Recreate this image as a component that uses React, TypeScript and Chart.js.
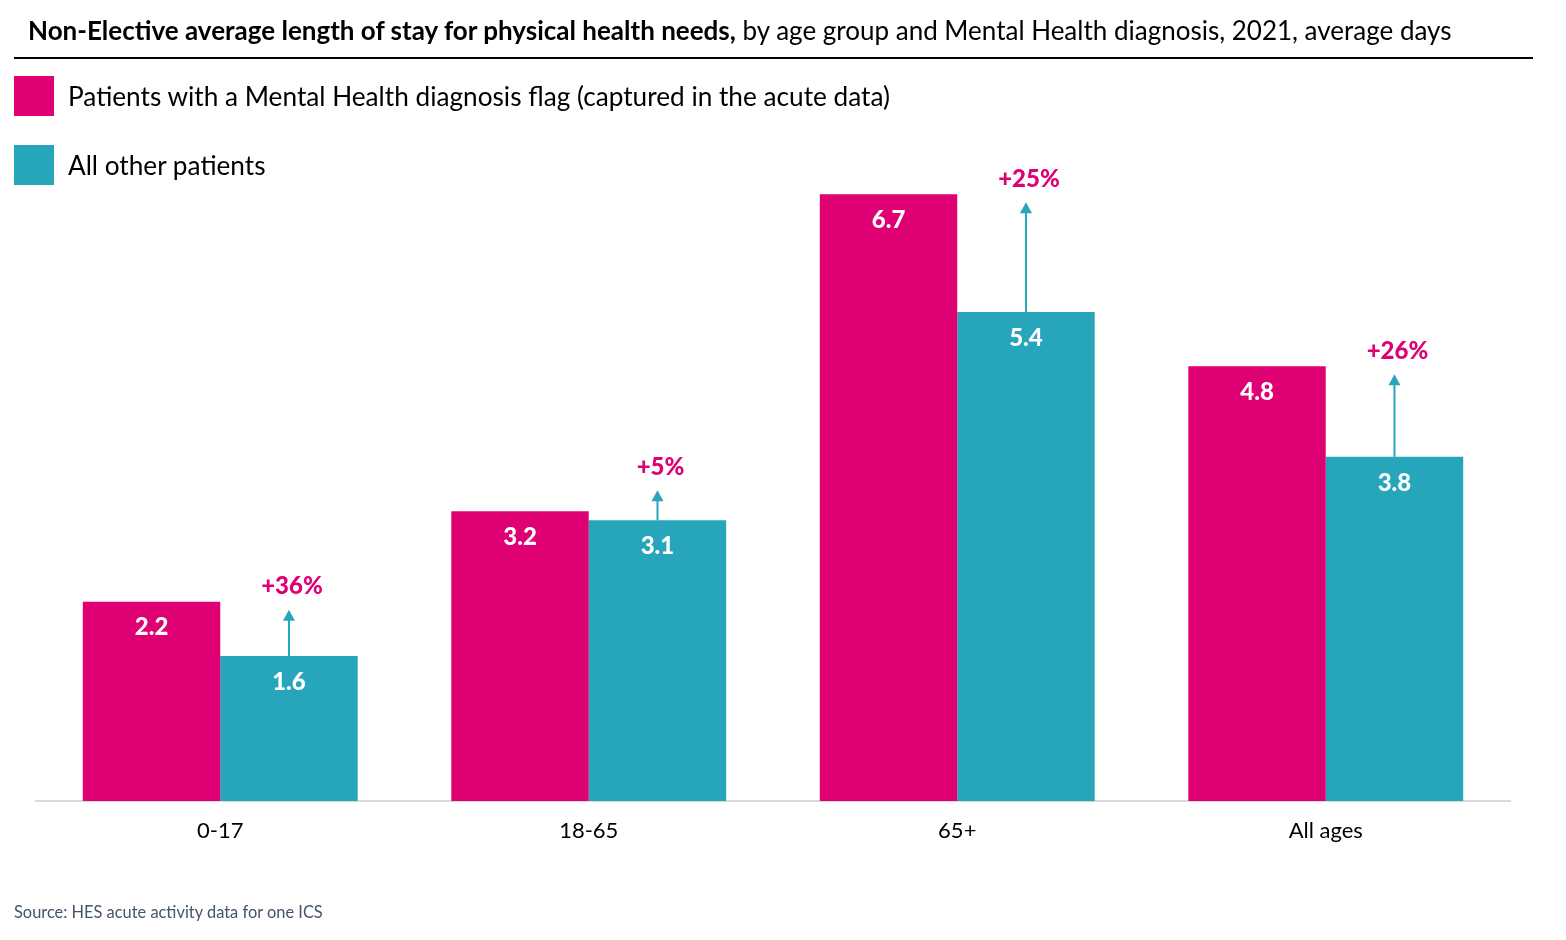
import React, { useEffect, useRef } from "react";
import { Chart, registerables } from "chart.js";

Chart.register(...registerables);

const categories = ["0-17", "18-65", "65+", "All ages"];
const mentalHealthLos = [2.2, 3.2, 6.7, 4.8];
const otherPatientsLos = [1.6, 3.1, 5.4, 3.8];
const upliftLabels = ["+36%", "+5%", "+25%", "+26%"];

const seriesNames = [
  "Patients with a Mental Health diagnosis flag (captured in the acute data)",
  "All other patients",
];

const PINK = "#DF0174";
const TEAL = "#27A5BB";
const FONT = "Lato, 'Open Sans', sans-serif";

const annotationPlugin = {
  id: "barAnnotations",
  afterDatasetsDraw(chart: any) {
    const ctx = chart.ctx;
    const yScale = chart.scales.y;
    const metaPink = chart.getDatasetMeta(0);
    const metaTeal = chart.getDatasetMeta(1);
    ctx.save();
    ctx.textAlign = "center";
    ctx.textBaseline = "middle";
    // value labels inside the top of each bar
    ctx.font = `900 24px ${FONT}`;
    ctx.fillStyle = "#ffffff";
    [metaPink, metaTeal].forEach((meta: any, di: number) => {
      const values = di === 0 ? mentalHealthLos : otherPatientsLos;
      meta.data.forEach((bar: any, i: number) => {
        ctx.fillText(values[i].toFixed(1), bar.x, bar.y + 26);
      });
    });
    // uplift arrows and percentage labels over the comparison bars
    metaTeal.data.forEach((bar: any, i: number) => {
      const pinkTop = yScale.getPixelForValue(mentalHealthLos[i]);
      const tip = Math.min(pinkTop + 8, bar.y - 30);
      ctx.strokeStyle = TEAL;
      ctx.lineWidth = 2;
      ctx.beginPath();
      ctx.moveTo(bar.x, bar.y);
      ctx.lineTo(bar.x, tip + 10);
      ctx.stroke();
      ctx.fillStyle = TEAL;
      ctx.beginPath();
      ctx.moveTo(bar.x, tip);
      ctx.lineTo(bar.x - 6, tip + 11);
      ctx.lineTo(bar.x + 6, tip + 11);
      ctx.closePath();
      ctx.fill();
      ctx.fillStyle = PINK;
      ctx.font = `900 24px ${FONT}`;
      ctx.fillText(upliftLabels[i], bar.x + 3, tip - 23);
    });
    ctx.restore();
  },
};

export default function App() {
  const canvasRef = useRef<HTMLCanvasElement>(null);

  useEffect(() => {
    if (!canvasRef.current) return;
    const chart = new Chart(canvasRef.current, {
      type: "bar",
      data: {
        labels: categories,
        datasets: [
          {
            label: seriesNames[0],
            data: mentalHealthLos,
            backgroundColor: PINK,
            categoryPercentage: 0.746,
            barPercentage: 1.0,
          },
          {
            label: seriesNames[1],
            data: otherPatientsLos,
            backgroundColor: TEAL,
            categoryPercentage: 0.746,
            barPercentage: 1.0,
          },
        ],
      },
      options: {
        animation: false,
        responsive: false,
        maintainAspectRatio: false,
        layout: { padding: { left: 36, right: 56, top: 167, bottom: 0 } },
        plugins: {
          legend: { display: false },
          tooltip: { enabled: false },
          title: { display: false },
        },
        scales: {
          x: {
            grid: { display: false, drawTicks: false },
            border: { display: true, color: "#D9D9D9", width: 2 },
            ticks: {
              color: "#000000",
              font: { family: FONT, size: 22 },
              padding: 17,
            },
            afterFit: (scale: any) => {
              scale.height = 139;
            },
          },
          y: {
            display: false,
            min: 0,
            max: 7,
          },
        },
      },
      plugins: [annotationPlugin],
    });
    return () => chart.destroy();
  }, []);

  const legendRow = (color: string, text: string, top: number) => (
    <div
      style={{
        position: "absolute",
        left: 14,
        top,
        display: "flex",
        alignItems: "center",
        height: 40,
      }}
    >
      <div style={{ width: 40, height: 40, background: color }} />
      <span style={{ marginLeft: 14, fontSize: 26.2, color: "#000" }}>{text}</span>
    </div>
  );

  return (
    <div
      style={{
        position: "absolute",
        left: 0,
        top: 0,
        width: 1566,
        height: 940,
        background: "#ffffff",
        fontFamily: FONT,
        overflow: "hidden",
      }}
    >
      <canvas
        ref={canvasRef}
        width={1566}
        height={940}
        style={{ position: "absolute", left: 0, top: 0 }}
      />
      <div
        style={{
          position: "absolute",
          left: 28,
          top: 14,
          fontSize: 26,
          color: "#000",
          whiteSpace: "nowrap",
        }}
      >
        <b>Non-Elective average length of stay for physical health needs,</b> by age group and
        Mental Health diagnosis, 2021, average days
      </div>
      <div
        style={{
          position: "absolute",
          left: 14,
          top: 57,
          width: 1519,
          height: 2,
          background: "#000",
        }}
      />
      {legendRow(PINK, seriesNames[0], 76)}
      {legendRow(TEAL, seriesNames[1], 145)}
      <div
        style={{
          position: "absolute",
          left: 14,
          top: 902,
          fontSize: 16.4,
          color: "#44546A",
          whiteSpace: "nowrap",
        }}
      >
        Source: HES acute activity data for one ICS
      </div>
    </div>
  );
}
